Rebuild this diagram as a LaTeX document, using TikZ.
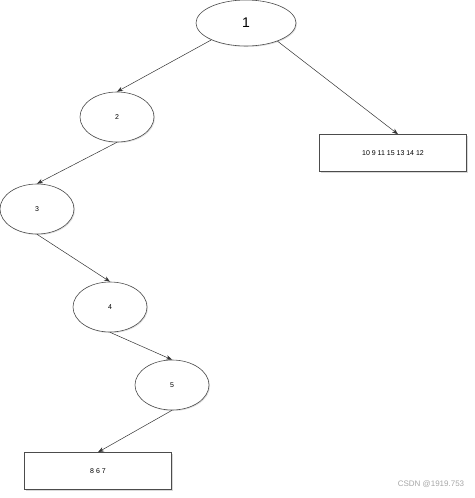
\documentclass[tikz,border=0pt]{standalone}
\usepackage{fontspec}
\setmainfont{Liberation Sans}
\usetikzlibrary{arrows.meta, shadows, shapes.geometric}

\begin{document}
\begin{tikzpicture}[
    x=1pt, y=-1pt,
    oval/.style={draw=black!70, ellipse, fill=white, line width=0.6pt, minimum width=74pt, minimum height=50pt, inner sep=0pt, font=\fontsize{7}{8}\selectfont, drop shadow={shadow xshift=1pt, shadow yshift=-1pt, opacity=0.25}},
    leaf/.style={draw=black!70, rectangle, fill=white, line width=0.6pt, minimum width=147pt, minimum height=37pt, font=\fontsize{7}{8}\selectfont, drop shadow={shadow xshift=1.2pt, shadow yshift=-1.2pt, opacity=0.3}},
    arrow/.style={-{Stealth[length=6pt, width=4.5pt]}, draw=black!80, line width=0.5pt}
]
\useasboundingbox (0,0) rectangle (474,498);

% Tree nodes
\node[oval, minimum width=100pt, minimum height=46pt, font=\fontsize{14}{16}\selectfont] (n1) at (246,23) {1};
\node[oval] (n2) at (117,117) {2};
\node[oval] (n3) at (37,209) {3};
\node[oval] (n4) at (110,307) {4};
\node[oval] (n5) at (172,385) {5};

% Leaf boxes
\node[leaf] (right) at (393,153) {10 9 11 15 13 14 12};
\node[leaf] (bottom) at (98,471) {8 6 7};

% Arrows
\draw[arrow] (n1.206) -- (n2.north);
\draw[arrow] (n1.330) -- ([xshift=5pt]right.north);
\draw[arrow] (n2.south) -- (n3.north);
\draw[arrow] (n3.south) -- (n4.north);
\draw[arrow] (n4.south) -- (n5.north);
\draw[arrow] (n5.south) -- (bottom.north);

% Watermark
\node[font=\fontsize{8}{9}\selectfont, text=black!35] (mark) at (431,484) {CSDN @1919.753};

\end{tikzpicture}
\end{document}
